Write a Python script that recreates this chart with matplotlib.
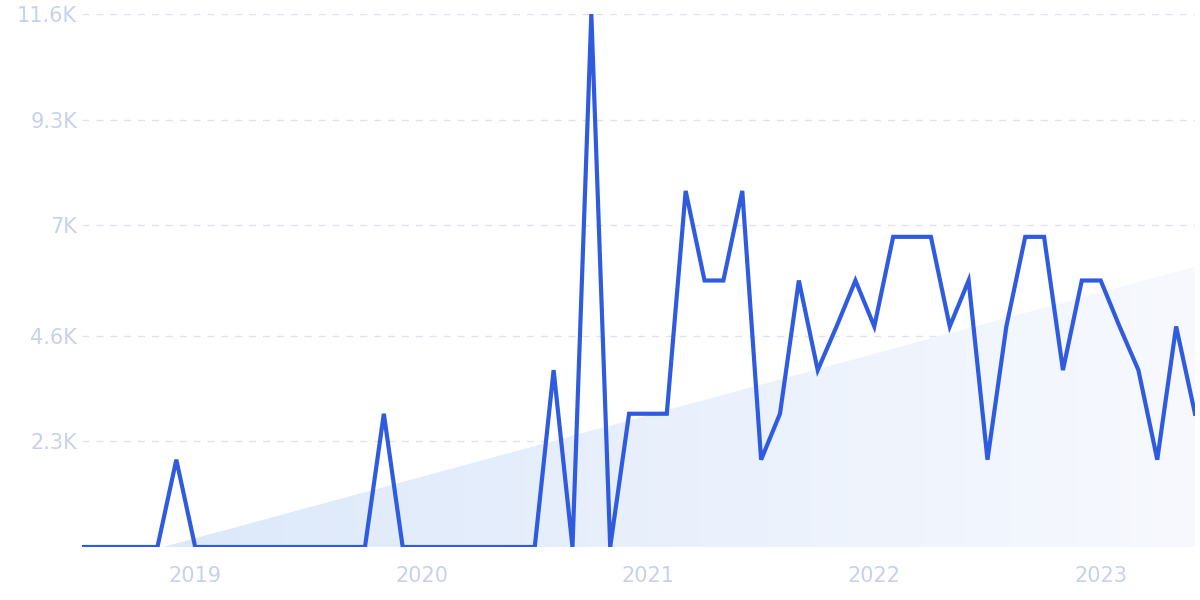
import matplotlib
matplotlib.use("Agg")
import matplotlib.pyplot as plt
import numpy as np
from matplotlib.patches import Polygon

# monthly values, Jul 2018 .. Jun 2023
values = [0,0,0,0,0,1900,
          0,0,0,0,0,0,0,0,0,0,2900,0,
          0,0,0,0,0,0,0,3850,0,11600,0,2900,
          2900,2900,7750,5800,5800,7750,1900,2900,5800,3850,4800,5800,
          4800,6750,6750,6750,4800,5800,1900,4800,6750,6750,3850,5800,
          5800,4800,3850,1900,4800,2900]
trend_start_idx, trend_start_val = 4.3, 0
trend_end_val = 6100
year_labels = ["2019", "2020", "2021", "2022", "2023"]
year_idx = [6, 18, 30, 42, 54]
yticks = [2300, 4600, 7000, 9300, 11600]
ylabels = ["2.3K", "4.6K", "7K", "9.3K", "11.6K"]

x = np.arange(len(values))
fig = plt.figure(figsize=(12, 6), dpi=100)
ax = fig.add_axes([82/1200, 53/600, (1195-82)/1200, (547-14)/600])
ax.set_xlim(0, len(values)-1)
ax.set_ylim(0, 11600)

# gradient trend area
xe = len(values)-1
grad = np.linspace(0, 1, 256).reshape(1, -1)
from matplotlib.colors import LinearSegmentedColormap
cmap = LinearSegmentedColormap.from_list("g", ["#dce8fa", "#f7f9fe"])
im = ax.imshow(grad, extent=[trend_start_idx, xe, 0, trend_end_val], aspect="auto",
               cmap=cmap, zorder=1, origin="lower")
poly = Polygon([[trend_start_idx, trend_start_val], [xe, trend_end_val], [xe, 0]],
               closed=True, transform=ax.transData, facecolor="none", edgecolor="none")
ax.add_patch(poly)
im.set_clip_path(poly)

ax.plot(x, values, color="#2f5be0", lw=3, zorder=3, solid_joinstyle="miter")

for v in yticks:
    ax.axhline(v, color="#dde3f3", lw=1, ls=(0, (5, 5)), zorder=0)
ax.set_yticks(yticks)
ax.set_yticklabels(ylabels)
ax.set_xticks(year_idx)
ax.set_xticklabels(year_labels)
ax.tick_params(length=0, colors="#c8d0ee", labelsize=15)
ax.tick_params(axis="x", pad=14)
for s in ax.spines.values():
    s.set_visible(False)
fig.savefig("out.png", dpi=100)
